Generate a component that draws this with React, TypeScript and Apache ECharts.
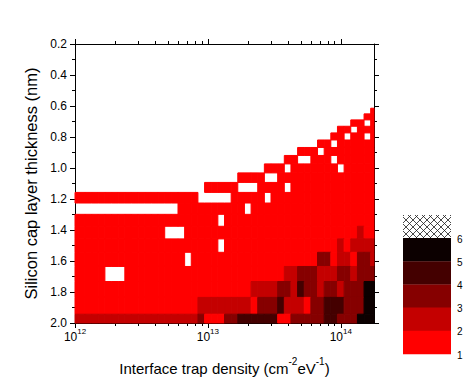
import React, { useEffect, useRef } from "react";
import * as echarts from "echarts";

// Interface trap density grid (cm^-2 eV^-1): 20 columns per decade
const densities = [
  1.0e12, 1.122e12, 1.259e12, 1.413e12, 1.585e12, 1.778e12, 1.995e12, 2.239e12, 2.512e12, 2.818e12,
  3.162e12, 3.548e12, 3.981e12, 4.467e12, 5.012e12, 5.623e12, 6.31e12, 7.079e12, 7.943e12, 8.913e12,
  1.0e13, 1.122e13, 1.259e13, 1.413e13, 1.585e13, 1.778e13, 1.995e13, 2.239e13, 2.512e13, 2.818e13,
  3.162e13, 3.548e13, 3.981e13, 4.467e13, 5.012e13, 5.623e13, 6.31e13, 7.079e13, 7.943e13, 8.913e13,
  1.0e14, 1.122e14, 1.259e14, 1.413e14, 1.585e14, 1.778e14,
];

// Silicon cap layer thickness grid (nm)
const thicknesses = [
  0.2, 0.212, 0.224, 0.238, 0.252, 0.267, 0.283, 0.299, 0.317, 0.336,
  0.356, 0.377, 0.399, 0.423, 0.448, 0.474, 0.502, 0.532, 0.564, 0.597,
  0.632, 0.67, 0.71, 0.752, 0.796, 0.843, 0.893, 0.946, 1.002, 1.062,
  1.125, 1.191, 1.262, 1.337, 1.416, 1.5, 1.589, 1.683, 1.783, 1.888, 2.0,
];

// rows above this index are empty
const firstFilledRow = 20;
// one string per thickness row (from 0.632 nm down to 2.0 nm); one char per density column
// "." = no value, 1..5 = colour band (1-2, 2-3, 3-4, 4-5, 5-6)
const levelRows = [
  ".......... .......... .......... .......... .....1",
  ".......... .......... .......... .......... ....11",
  ".......... .......... .......... .......... ..11.1",
  ".......... .......... .......... .......... 11.111",
  ".......... .......... .......... .........1 1.11.1",
  ".......... .......... .......... .......11. 111111",
  ".......... .......... .......... ....111.11 111111",
  ".......... .......... .......... ..11..111. 111111",
  ".......... .......... .........1 11.1111111 .11111",
  ".......... .......... .....1111. .111111111 111111",
  ".......... .......... 11111...11 11.1111111 111111",
  "1111111111 111111111. ....11111. 1111111111 111111",
  ".......... ......1111 111111.111 1111111111 111111",
  "1111111111 1111111111 11.1111111 1111111111 111111",
  "1111111111 1111...111 1111111111 1111111111 111211",
  "1111111111 1111111111 11.1111111 1111111111 212222",
  "1111111111 1111111.11 1111111111 1111111331 221332",
  "11111...11 1111111111 1111111111 1122333222 332333",
  "1111111111 1111111111 1111111222 2332433233 233355",
  "1111111111 1111111112 2222222133 3422213344 433355",
  "2222222222 2222222223 1113344444 4113333344 333555",
];

const levelColors = ["#ff0000", "#c40000", "#860000", "#440000", "#0c0000"];
const colorbarLabels = ["1", "2", "3", "4", "5", "6"];

const xMajorTicks = [1e12, 1e13, 1e14];
const xMinorTicks = [
  2e12, 3e12, 4e12, 5e12, 6e12, 7e12, 8e12, 9e12,
  2e13, 3e13, 4e13, 5e13, 6e13, 7e13, 8e13, 9e13,
];
const yMin = 0.2;
const yMax = 2.0;
const yStep = 0.2;

const FONT = "Arial, 'Liberation Sans', sans-serif";

function cellEdges(arr: number[], i: number): [number, number] {
  const n = arr.length;
  const lo = i > 0 ? Math.sqrt(arr[i - 1] * arr[i]) : arr[0] * Math.sqrt(arr[0] / arr[1]);
  const hi =
    i < n - 1 ? Math.sqrt(arr[i] * arr[i + 1]) : arr[n - 1] * Math.sqrt(arr[n - 1] / arr[n - 2]);
  return [lo, hi];
}

function buildCells() {
  const data: any[] = [];
  levelRows.forEach((row, ri) => {
    const k = firstFilledRow + ri;
    const chars = row.replace(/ /g, "");
    for (let j = 0; j < chars.length; j++) {
      const c = chars[j];
      if (c === ".") continue;
      data.push({ value: [densities[j], thicknesses[k], Number(c), j, k] });
    }
  });
  return data;
}

function hatchLines(x0: number, y0: number, w: number, h: number, s: number) {
  const out: any[] = [];
  const style = { stroke: "#1a1a1a", lineWidth: 0.8 };
  for (let c = -h; c <= w; c += s) {
    const t0 = Math.max(0, -c);
    const t1 = Math.min(h, w - c);
    if (t1 <= t0) continue;
    out.push({
      type: "line",
      shape: { x1: x0 + c + t0, y1: y0 + t0, x2: x0 + c + t1, y2: y0 + t1 },
      style,
    });
    out.push({
      type: "line",
      shape: { x1: x0 + w - c - t0, y1: y0 + t0, x2: x0 + w - c - t1, y2: y0 + t1 },
      style,
    });
  }
  return out;
}

function buildColorbar() {
  const x = 403;
  const w = 48;
  const top = 238;
  const bandH = 23.2;
  const els: any[] = [];
  const nb = levelColors.length;
  for (let i = 0; i < nb; i++) {
    const level = nb - i;
    els.push({
      type: "rect",
      shape: { x, y: top + i * bandH, width: w, height: bandH + 0.3 },
      style: { fill: levelColors[level - 1] },
    });
  }
  colorbarLabels.forEach((lab, idx) => {
    const y = top + (nb - idx) * bandH;
    els.push({
      type: "text",
      x: x + w + 6,
      y: y + 1,
      style: { text: lab, fontSize: 10, fontFamily: FONT, fill: "#000", verticalAlign: "middle", align: "left" },
    });
  });
  els.push(...hatchLines(x, 215, w, 23, 7));
  return els;
}

const supRich = {
  b: { fontSize: 12, lineHeight: 16, fontFamily: FONT, color: "#000", verticalAlign: "bottom" },
  s: { fontSize: 8, fontFamily: FONT, color: "#000", verticalAlign: "top" },
};

export default function App() {
  const ref = useRef<HTMLDivElement>(null);
  useEffect(() => {
    if (!ref.current) return;
    const chart = echarts.init(ref.current, null, { renderer: "svg" });
    const xCommon = {
      type: "log",
      logBase: 10,
      min: densities[0],
      max: densities[densities.length - 1],
      splitLine: { show: false },
    };
    const lineStyle = { color: "#000", width: 1 };
    const yCommon = {
      type: "value",
      inverse: true,
      min: yMin,
      max: yMax,
      interval: yStep,
      splitLine: { show: false },
      minorSplitLine: { show: false },
      axisLine: { show: true, onZero: false, lineStyle },
      axisTick: { show: true, length: 5, inside: false, lineStyle },
      minorTick: { show: true, splitNumber: 2, length: 3, lineStyle },
    };
    const option: any = {
      animation: false,
      backgroundColor: "#fff",
      grid: { left: 75, top: 44, width: 299, height: 285 },
      xAxis: [
        {
          ...xCommon,
          position: "bottom",
          axisLine: { show: true, onZero: false, lineStyle },
          axisTick: { show: true, length: 5, inside: false, lineStyle, customValues: xMajorTicks },
          axisLabel: {
            customValues: xMajorTicks,
            margin: 4,
            formatter: (v: number) => `{b|10}{s|${Math.round(Math.log10(v))}}`,
            rich: supRich,
          },
          name: "{t|Interface trap density (cm}{s|-2}{t|eV}{s|-1}{t|)}",
          nameLocation: "middle",
          nameGap: 33,
          nameTextStyle: {
            rich: {
              t: { fontSize: 15, lineHeight: 20, fontFamily: FONT, color: "#000", verticalAlign: "bottom" },
              s: { fontSize: 10, fontFamily: FONT, color: "#000", verticalAlign: "top" },
            },
          },
        },
        {
          ...xCommon,
          position: "bottom",
          axisLine: { show: false, onZero: false },
          axisTick: { show: true, length: 3, inside: false, lineStyle, customValues: xMinorTicks },
          axisLabel: { show: false },
        },
        {
          ...xCommon,
          position: "top",
          axisLine: { show: true, onZero: false, lineStyle },
          axisTick: { show: true, length: 5, inside: false, lineStyle, customValues: xMajorTicks },
          axisLabel: { show: false },
        },
        {
          ...xCommon,
          position: "top",
          axisLine: { show: false, onZero: false },
          axisTick: { show: true, length: 3, inside: false, lineStyle, customValues: xMinorTicks },
          axisLabel: { show: false },
        },
      ],
      yAxis: [
        {
          ...yCommon,
          position: "left",
          axisLabel: {
            margin: 8,
            fontSize: 12,
            fontFamily: FONT,
            color: "#000",
            formatter: (v: number) => v.toFixed(1),
          },
          name: "Silicon cap layer thickness (nm)",
          nameLocation: "middle",
          nameRotate: 90,
          nameGap: 36,
          nameTextStyle: { fontSize: 16.5, fontFamily: FONT, color: "#000" },
        },
        {
          ...yCommon,
          position: "right",
          axisLabel: { show: false },
        },
      ],
      series: [
        {
          type: "custom",
          xAxisIndex: 0,
          yAxisIndex: 0,
          data: buildCells(),
          renderItem: (params: any, api: any) => {
            const j = api.value(3);
            const k = api.value(4);
            const level = api.value(2);
            const [xl, xr] = cellEdges(densities, j);
            const [yt, yb] = cellEdges(thicknesses, k);
            const p1 = api.coord([xl, yt]);
            const p2 = api.coord([xr, yb]);
            const rect = {
              x: Math.min(p1[0], p2[0]),
              y: Math.min(p1[1], p2[1]),
              width: Math.abs(p2[0] - p1[0]),
              height: Math.abs(p2[1] - p1[1]),
            };
            const cs = params.coordSys;
            const clipped = echarts.graphic.clipRectByRect(rect, {
              x: cs.x,
              y: cs.y,
              width: cs.width,
              height: cs.height,
            });
            if (!clipped) return null;
            const color = levelColors[level - 1];
            return {
              type: "rect",
              shape: clipped,
              style: { fill: color, stroke: color, lineWidth: 1 },
            };
          },
        },
      ],
      graphic: buildColorbar(),
    };
    chart.setOption(option);
    return () => chart.dispose();
  }, []);
  return (
    <div
      ref={ref}
      style={{ position: "fixed", left: 0, top: 0, width: 474, height: 381, background: "#fff" }}
    />
  );
}
